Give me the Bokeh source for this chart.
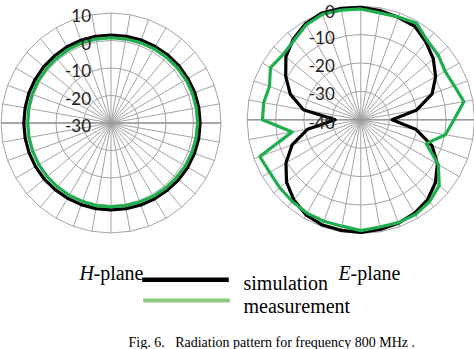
import numpy as np
from bokeh.plotting import figure
from bokeh.models import Range1d
from bokeh.embed import file_html
from bokeh.resources import INLINE
from bokeh.core.properties import value

# ---------------- data ----------------
angles_deg = list(range(0, 360, 10))

h_sim = [2.0, 2.0, 2.1, 2.1, 2.2, 2.3, 2.3, 2.4, 2.4, 2.4, 2.4, 2.3,
         2.2, 2.1, 1.9, 1.8, 1.7, 1.6, 1.6, 1.6, 1.6, 1.6, 1.6, 1.7,
         1.7, 1.7, 1.7, 1.7, 1.7, 1.8, 1.8, 1.9, 1.9, 2.0, 2.0, 2.0]
h_meas = [1.0, 1.0, 1.1, 1.2, 1.3, 1.4, 1.5, 1.5, 1.5, 1.5, 1.4, 1.3,
          1.2, 1.0, 0.9, 0.8, 0.6, 0.5, 0.5, 0.5, 0.4, 0.4, 0.3, 0.3,
          0.3, 0.3, 0.3, 0.3, 0.4, 0.5, 0.6, 0.7, 0.8, 0.9, 1.0, 1.0]

e_sim = [-0.4, -1.0, -1.6, -2.0, -4.3, -6.7, -9.6, -13.3, -20.0, -29.0, -20.2, -13.3,
         -8.9, -5.7, -3.4, -2.1, -1.3, -0.8, -0.4, -0.5, -0.6, -1.4, -3.3, -5.9,
         -9.6, -14.3, -21.0, -31.0, -19.5, -13.6, -9.5, -5.6, -3.0, -1.0, 0.0, -0.2]
e_meas = [-1.0, -1.8, -1.5, -0.8, -3.6, -4.5, -5.8, -5.0, -3.2, -7.2, -9.8, -15.5,
          -8.5, -4.0, -2.4, -1.5, -1.5, -1.7, -1.0, -2.0, -2.0, -2.1, -2.5, -2.8,
          -3.0, -2.2, -15.5, -5.4, -5.3, -5.8, -3.3, -4.3, -3.5, -1.5, -0.5, -0.8]

h_ticks = [10, 0, -10, -20, -30]
e_ticks = [0, -10, -20, -30, -40]

panel_titles = [("H", "-plane"), ("E", "-plane")]
legend_labels = ["simulation", "measurement"]
caption = "Fig. 6.\u00a0\u00a0\u00a0Radiation pattern for frequency 800 MHz ."

# ---------------- styles ----------------
W, H = 474, 349
SIM_COLOR = "#000000"
MEAS_COLOR = "#1fae4e"
LEG_MEAS_COLOR = "#8dc97c"
GRID_COLOR = "#a3a3a3"
LABEL_COLOR = "#222222"

p = figure(width=W, height=H, x_range=Range1d(0, W), y_range=Range1d(H, 0),
           output_backend="svg", toolbar_location=None, min_border=0)
p.axis.visible = False
p.grid.visible = False
p.outline_line_color = None
p.background_fill_color = "white"
p.border_fill_color = "white"

th = np.deg2rad(angles_deg)


def panel(cx, cy, R, ticks, sim, meas, label_dx, min_label_y):
    vmax, vmin = ticks[0], ticks[-1]

    def rad(v):
        return (np.asarray(v, dtype=float) - vmin) / (vmax - vmin) * R

    # rings (polygons through every spoke, as in a radar chart)
    xs, ys = [], []
    for t in ticks[:-1]:
        r = rad(t)
        x = cx + r * np.sin(th)
        y = cy - r * np.cos(th)
        xs.append(list(x) + [x[0]])
        ys.append(list(y) + [y[0]])
    p.multi_line(xs, ys, line_color=GRID_COLOR, line_width=1)

    # spokes
    sx, sy = [], []
    for a in th:
        sx.append([cx, cx + R * np.sin(a)])
        sy.append([cy, cy - R * np.cos(a)])
    p.multi_line(sx, sy, line_color=GRID_COLOR, line_width=1)
    # horizontal axis slightly stronger
    p.line([cx - R, cx + R], [cy, cy], line_color="#999999", line_width=1.6)

    # series
    for vals, col in ((sim, SIM_COLOR), (meas, MEAS_COLOR)):
        r = rad(vals)
        x = cx + r * np.sin(th)
        y = cy - r * np.cos(th)
        p.line(list(x) + [x[0]], list(y) + [y[0]], line_color=col,
               line_width=3.2, line_join="round")

    # tick labels
    ty = [max(cy - float(rad(t)) + 2.5, min_label_y) for t in ticks]
    p.text([cx + label_dx] * len(ticks), ty, text=[str(t) for t in ticks],
           text_align="right", text_baseline="middle",
           text_font=value("Lato"), text_font_size="17px",
           text_color=LABEL_COLOR)


panel(110.5, 122.5, 110.0, h_ticks, h_sim, h_meas, -20, 0)
panel(360.3, 119.3, 113.7, e_ticks, e_sim, e_meas, -26, 10.5)

# panel titles
serif = value("Liberation Serif")
for (it, rest), x0, x1 in zip(panel_titles, [79, 338], [93, 350]):
    p.text([x0], [272], text=[it], text_font=serif, text_font_style="italic",
           text_font_size="20px", text_baseline="alphabetic", text_color="black")
    p.text([x1], [272], text=[rest], text_font=serif,
           text_font_size="20px", text_baseline="alphabetic", text_color="black")

# legend
p.line([141.7, 228.3], [279.3, 279.3], line_color=SIM_COLOR, line_width=4.5)
p.line([142.7, 229.3], [300.0, 300.0], line_color=LEG_MEAS_COLOR, line_width=4)
p.text([243, 243], [282.5, 305], text=legend_labels, text_font=serif,
       text_font_size="20px", text_baseline="alphabetic", text_color="black")

# caption
p.text([128], [342], text=[caption], text_font=serif, text_font_size="14px",
       text_baseline="alphabetic", text_color="black")

open("out.html", "w").write(file_html(p, INLINE))
